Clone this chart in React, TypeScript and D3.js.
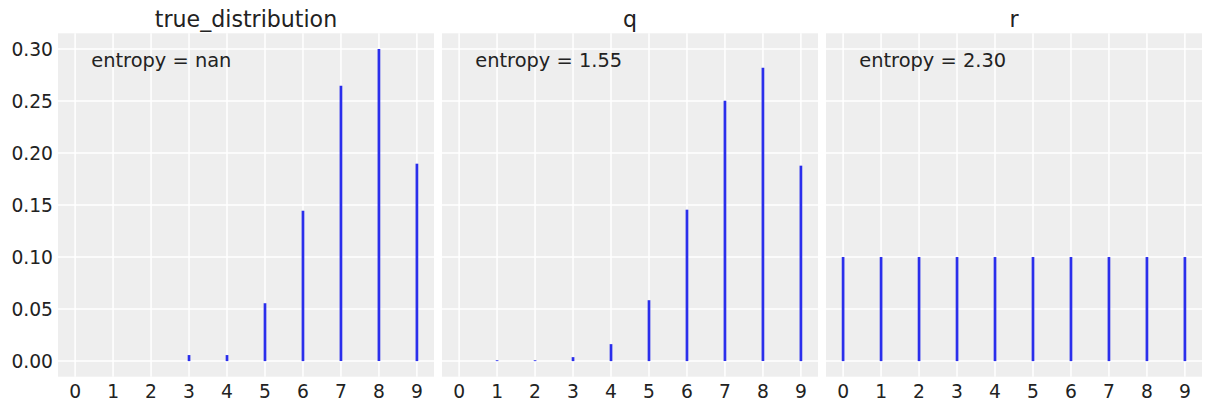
import React, { useEffect, useRef } from 'react';
import * as d3 from 'd3';

// values
const categories = [0, 1, 2, 3, 4, 5, 6, 7, 8, 9];
const trueDistribution = [0, 0, 0, 0.0058, 0.0058, 0.0556, 0.1445, 0.2647, 0.3, 0.1897];
const qValues = [0.00002, 0.0008, 0.0008, 0.0038, 0.0163, 0.0585, 0.1455, 0.2503, 0.282, 0.1878];
const rValues = [0.1, 0.1, 0.1, 0.1, 0.1, 0.1, 0.1, 0.1, 0.1, 0.1];
const panelTitles = ['true_distribution', 'q', 'r'];
const entropyLabels = ['entropy = nan', 'entropy = 1.55', 'entropy = 2.30'];
const yTicks = [0, 0.05, 0.1, 0.15, 0.2, 0.25, 0.3];

const series = [trueDistribution, qValues, rValues];

export default function App() {
  const svgRef = useRef<SVGSVGElement>(null);

  useEffect(() => {
    document.body.style.margin = '0';
    if (!svgRef.current) return;

    const svg = d3.select(svgRef.current);
    svg.selectAll('*').remove();

    const W = 1211, H = 411;
    const top = 33.3, bottom = 376.7;
    const panelW = 376, gap = 8, left0 = 58;
    const font = 'DejaVu Sans, sans-serif';
    const textColor = '#222222';

    svg.attr('width', W).attr('height', H);
    svg.append('rect').attr('width', W).attr('height', H).attr('fill', '#ffffff');

    const y = d3.scaleLinear().domain([-0.015, 0.315]).range([bottom, top]);

    series.forEach((vals, i) => {
      const x0 = left0 + i * (panelW + gap);
      const x = d3.scaleLinear().domain([-0.45, 9.45]).range([x0, x0 + panelW]);
      const g = svg.append('g');

      g.append('rect')
        .attr('x', x0)
        .attr('y', top)
        .attr('width', panelW)
        .attr('height', bottom - top)
        .attr('fill', '#eeeeee');

      // grid
      g.selectAll('.vgrid')
        .data(categories)
        .enter()
        .append('line')
        .attr('x1', d => x(d))
        .attr('x2', d => x(d))
        .attr('y1', top)
        .attr('y2', bottom)
        .attr('stroke', '#ffffff')
        .attr('stroke-width', 1.5);

      g.selectAll('.hgrid')
        .data(yTicks)
        .enter()
        .append('line')
        .attr('x1', x0)
        .attr('x2', x0 + panelW)
        .attr('y1', d => y(d))
        .attr('y2', d => y(d))
        .attr('stroke', '#ffffff')
        .attr('stroke-width', 1.5);

      // vertical bars
      g.selectAll('.bar')
        .data(categories)
        .enter()
        .append('line')
        .attr('x1', d => x(d))
        .attr('x2', d => x(d))
        .attr('y1', y(0))
        .attr('y2', d => y(vals[d]))
        .attr('stroke', '#2a2eec')
        .attr('stroke-width', 2.7);

      // x tick labels
      g.selectAll('.xt')
        .data(categories)
        .enter()
        .append('text')
        .attr('x', d => x(d))
        .attr('y', 398)
        .attr('text-anchor', 'middle')
        .attr('font-family', font)
        .attr('font-size', 18.7)
        .attr('fill', textColor)
        .text(d => String(d));

      // title
      g.append('text')
        .attr('x', x0 + panelW / 2)
        .attr('y', 27)
        .attr('text-anchor', 'middle')
        .attr('font-family', font)
        .attr('font-size', 22.1)
        .attr('fill', textColor)
        .text(panelTitles[i]);

      // entropy annotation
      g.append('text')
        .attr('x', x0 + 33.3)
        .attr('y', 67.3)
        .attr('font-family', font)
        .attr('font-size', 19.4)
        .attr('fill', textColor)
        .text(entropyLabels[i]);

      if (i === 0) {
        g.selectAll('.yt')
          .data(yTicks)
          .enter()
          .append('text')
          .attr('x', x0 - 5)
          .attr('y', d => y(d))
          .attr('dy', '0.36em')
          .attr('text-anchor', 'end')
          .attr('font-family', font)
          .attr('font-size', 18.7)
          .attr('fill', textColor)
          .text(d => d.toFixed(2));
      }
    });
  }, []);

  return (
    <div style={{ width: 1211, height: 411 }}>
      <svg ref={svgRef} style={{ display: 'block' }}></svg>
    </div>
  );
}
